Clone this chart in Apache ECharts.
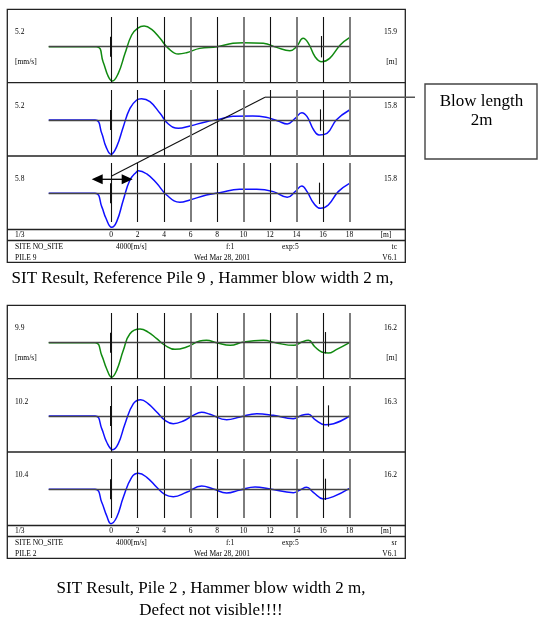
<!DOCTYPE html>
<html><head><meta charset="utf-8">
<script src="https://cdn.jsdelivr.net/npm/echarts@6/dist/echarts.min.js"></script>
<style>html,body{margin:0;padding:0;background:#fff}#c{width:549px;height:621px}</style>
</head><body><div id="c"></div>
<script>
// ---------------- DATA ----------------
const distTicks = [0, 2, 4, 6, 8, 10, 12, 14, 16, 18];   // [m]

// Pile 9 (reference) — measured velocity (green) and two simulated traces (blue)
const pile9MeasX = [-4.7,-1.1,-0.6,-0.2,0.1,0.55,1.06,1.56,2.0,2.5,3.07,3.7,4.33,5.08,5.7,6.7,8.0,9.2,10.0,11.5,12.5,13.5,14.0,14.5,14.9,15.4,15.9,16.5,17.3,18.0];
const pile9Meas  = [0,0,-0.45,-0.9,-1.03,-0.8,-0.2,0.35,0.55,0.62,0.52,0.25,-0.05,-0.22,-0.18,-0.05,0,0.1,0.12,0.1,-0.02,-0.12,0,0.25,0.1,-0.3,-0.45,-0.35,0.05,0.27];
const pile9SimAX = [-4.7,-1.2,-0.7,-0.38,0,0.43,0.93,1.43,1.94,2.3,2.94,3.7,4.33,5.08,5.96,7.2,8.2,9.2,10.7,11.7,12.6,13.3,13.9,14.4,14.8,15.3,15.7,16.3,17.0,18.0];
const pile9SimA  = [0,0,-0.4,-0.8,-1.03,-0.8,-0.2,0.35,0.6,0.64,0.55,0.2,-0.12,-0.25,-0.18,-0.05,0.02,0.11,0.12,0.08,-0.03,-0.12,0.05,0.22,0.1,-0.3,-0.45,-0.4,0,0.3];
const pile9SimBX = [-4.7,-1.2,-0.7,-0.38,0.05,0.43,0.93,1.43,1.94,2.06,2.7,3.45,4.2,5.2,5.96,7.2,8.2,9.7,11.0,12.25,13.3,13.9,14.4,14.8,15.3,15.8,16.4,17.15,18.0];
const pile9SimB  = [0,0,-0.4,-0.75,-1.02,-0.85,-0.2,0.4,0.65,0.68,0.58,0.3,-0.05,-0.27,-0.2,-0.05,0.02,0.12,0.12,0.05,-0.12,0.05,0.22,0.05,-0.3,-0.45,-0.35,0.05,0.3];

// Pile 2
const pile2MeasX = [-4.7,-1.2,-0.7,-0.33,0.05,0.43,0.93,1.43,2.19,2.8,3.45,4.08,4.83,5.7,6.7,7.2,7.97,9.0,10.0,11.5,12.5,13.8,14.4,14.9,15.4,15.9,16.4,17.0,18.0];
const pile2Meas  = [0,0,-0.38,-0.78,-1.04,-0.83,-0.23,0.27,0.41,0.32,0.12,-0.08,-0.2,-0.13,0.05,0.07,0,-0.08,0.02,0.07,-0.01,-0.08,0.02,0.07,-0.13,-0.28,-0.31,-0.21,0];
const pile2SimAX = [-4.7,-1.2,-0.7,-0.33,0.13,0.55,1.06,1.69,2.24,2.8,3.45,4.08,4.7,5.46,6.2,6.84,7.47,8.73,9.74,11.0,12.25,13.76,14.4,14.9,15.4,16.15,16.8,18.0];
const pile2SimA  = [0,0,-0.38,-0.78,-1.01,-0.83,-0.23,0.37,0.49,0.37,0.12,-0.13,-0.23,-0.15,0.02,0.11,0.05,-0.11,-0.03,0.07,0.02,-0.08,0.02,0.05,-0.11,-0.26,-0.23,0];
const pile2SimBX = [-4.7,-1.2,-0.7,-0.33,0,0.43,0.93,1.56,2.06,2.7,3.45,4.08,4.7,5.7,6.84,7.72,8.73,9.74,10.87,12.0,13.76,14.26,14.77,15.27,16.03,16.78,18.0];
const pile2SimB  = [0,0,-0.39,-0.79,-1.03,-0.84,-0.24,0.36,0.48,0.36,0.06,-0.16,-0.22,-0.09,0.1,0.01,-0.11,-0.02,0.07,0.01,-0.1,-0.02,0.06,-0.09,-0.29,-0.22,0.03];

// toe (pile length) markers [m]
const pile9Toe = [15.85, 15.8, 15.75];
const pile2Toe = [16.2, 16.4, 16.2];

// panel labels
const pile9Scale  = ['5.2', '5.2', '5.8'];
const pile9Length = ['15.9', '15.8', '15.8'];
const pile2Scale  = ['9.9', '10.2', '10.4'];
const pile2Length = ['16.2', '16.3', '16.2'];
const velUnit = '[mm/s]', lenUnit = '[m]', pageLabel = '1/3';
const pile9Footer = ['SITE NO_SITE', '4000[m/s]', 'f:1', 'exp:5', 'tc', 'PILE 9', 'Wed Mar 28, 2001', 'V6.1'];
const pile2Footer = ['SITE NO_SITE', '4000[m/s]', 'f:1', 'exp:5', 'sr', 'PILE 2', 'Wed Mar 28, 2001', 'V6.1'];
const caption1 = 'SIT Result, Reference Pile 9 , Hammer blow width 2 m,';
const caption2a = 'SIT Result, Pile 2 , Hammer blow width 2 m,';
const caption2b = 'Defect not visible!!!!';
const blowText = ['Blow length', '2m'];

// ---------------- LAYOUT / STYLE ----------------
const SERIF = "'Liberation Serif', 'Times New Roman', serif";
const X0 = 111, PXM = 13.25, XMIN = -4.7, XMAX = 18, AMP = 33.33;
const FX = 7.3, FW = 398, FH = 253;
const figTops = [9.3, 305.3];
const panels = [
  {lineTop: 7.7, lineBot: 73.4, base: 37.4},
  {lineTop: 80.7, lineBot: 146.4, base: 110.7},
  {lineTop: 153.7, lineBot: 212.7, base: 184.0}
];
const dividers = [73.4, 146.7, 220.2, 231.2];
const grayTicks = [6, 10, 14, 18];
const GREEN = '#108a10', BLUE = '#1010ff';

const figs = [
  {traces: [[pile9MeasX, pile9Meas, GREEN], [pile9SimAX, pile9SimA, BLUE], [pile9SimBX, pile9SimB, BLUE]],
   toe: pile9Toe, scale: pile9Scale, len: pile9Length, footer: pile9Footer},
  {traces: [[pile2MeasX, pile2Meas, GREEN], [pile2SimAX, pile2SimA, BLUE], [pile2SimBX, pile2SimB, BLUE]],
   toe: pile2Toe, scale: pile2Scale, len: pile2Length, footer: pile2Footer}
];

const grids = [], xAxes = [], yAxes = [], series = [], graphics = [];
const smallFont = '7.5px ' + SERIF;
function txt(text, x, y, align, font) {
  graphics.push({type: 'text', silent: true, z: 10,
    style: {text: text, x: x, y: y, align: align || 'left', verticalAlign: 'middle', font: font || smallFont, fill: '#000'}});
}
function line(x1, y1, x2, y2, color, w) {
  graphics.push({type: 'line', silent: true, z: 5, shape: {x1: x1, y1: y1, x2: x2, y2: y2},
    style: {stroke: color, lineWidth: w}});
}

figs.forEach(function (fig, fi) {
  const top = figTops[fi];
  // frame
  graphics.push({type: 'rect', silent: true, z: 5, shape: {x: FX, y: top, width: FW, height: FH},
    style: {fill: 'none', stroke: '#222', lineWidth: 1.3}});
  dividers.forEach(function (d) { line(FX, top + d, FX + FW, top + d, '#222', 1.3); });

  panels.forEach(function (p, pi) {
    const gi = grids.length;
    grids.push({left: X0 + PXM * XMIN, width: PXM * (XMAX - XMIN), top: top + p.lineTop, height: p.lineBot - p.lineTop});
    const isBottom = pi === panels.length - 1;
    xAxes.push({type: 'value', gridIndex: gi, min: XMIN, max: XMAX,
      axisLine: {show: false}, axisTick: {show: false}, splitLine: {show: false},
      axisLabel: {show: isBottom, customValues: distTicks, margin: 9, color: '#000', fontFamily: SERIF, fontSize: 7.5}});
    yAxes.push({type: 'value', gridIndex: gi, show: false,
      min: -(p.lineBot - p.base) / AMP, max: (p.base - p.lineTop) / AMP});
    const tr = fig.traces[pi];
    const toe = fig.toe[pi];
    // reference lines
    series.push({type: 'line', xAxisIndex: gi, yAxisIndex: gi, data: [], z: 1, silent: true,
      markLine: {symbol: 'none', silent: true, animation: false, label: {show: false},
        data: distTicks.map(function (t) {
          const g = grayTicks.indexOf(t) >= 0;
          return {xAxis: t, lineStyle: {color: g ? '#7d7d7d' : '#111', width: g ? 2 : 1.1, type: 'solid'}};
        }).concat([
          {yAxis: 0, lineStyle: {color: '#444', width: 1.4, type: 'solid'}},
          [{coord: [toe, -0.32], lineStyle: {color: '#111', width: 1.1, type: 'solid'}}, {coord: [toe, 0.32]}],
          [{coord: [0, -0.3], lineStyle: {color: '#111', width: 2, type: 'solid'}}, {coord: [0, 0.3]}]
        ])}});
    series.push({type: 'line', xAxisIndex: gi, yAxisIndex: gi, z: 3, clip: false, symbol: 'none', smooth: 0.45,
      animation: false, silent: true,
      lineStyle: {color: tr[2], width: 1.5},
      data: tr[0].map(function (x, i) { return [x, tr[1][i]]; })});
    // panel labels
    const baseY = top + p.base;
    txt(fig.scale[pi], 15, baseY - 14.4, 'left');
    txt(fig.len[pi], 397, baseY - 14.4, 'right');
    if (pi === 0) {
      txt(velUnit, 15, baseY + 15, 'left');
      txt(lenUnit, 397, baseY + 15, 'right');
    }
  });
  // tick row extras
  txt(pageLabel, 15, top + 226.2, 'left');
  txt(lenUnit, 386, top + 226.2, 'center');
  // footer
  const f = fig.footer;
  const r1 = top + 237.6, r2 = top + 248.4;
  txt(f[0], 15, r1, 'left');
  txt(f[1], 116, r1, 'left');
  txt(f[2], 226, r1, 'left');
  txt(f[3], 282, r1, 'left');
  txt(f[4], 397, r1, 'right');
  txt(f[5], 15, r2, 'left');
  txt(f[6], 222, r2, 'center');
  txt(f[7], 397, r2, 'right');
});

// captions
const capFont = '17px ' + SERIF;
txt(caption1, 202.5, 278.3, 'center', capFont);
txt(caption2a, 211, 588.3, 'center', capFont);
txt(caption2b, 211, 610.7, 'center', capFont);

// blow-length annotation
graphics.push({type: 'rect', silent: true, z: 5, shape: {x: 425, y: 84, width: 112, height: 75},
  style: {fill: '#fff', stroke: '#444', lineWidth: 1.4}});
txt(blowText[0], 481.5, 101.7, 'center', capFont);
txt(blowText[1], 481.5, 121, 'center', capFont);
line(111.7, 176, 265, 97.3, '#111', 1.1);
line(265, 97.3, 415, 97.3, '#555', 1.6);
line(100, 179.3, 124, 179.3, '#000', 1.3);
graphics.push({type: 'polygon', silent: true, z: 6, shape: {points: [[91.7, 179.3], [102.7, 174.3], [102.7, 184.3]]}, style: {fill: '#000'}});
graphics.push({type: 'polygon', silent: true, z: 6, shape: {points: [[132.7, 179.3], [121.7, 174.3], [121.7, 184.3]]}, style: {fill: '#000'}});

const chart = echarts.init(document.getElementById('c'), null, {renderer: 'canvas'});
chart.setOption({
  animation: false,
  backgroundColor: '#fff',
  grid: grids, xAxis: xAxes, yAxis: yAxes, series: series,
  graphic: graphics
});
</script>
</body></html>
